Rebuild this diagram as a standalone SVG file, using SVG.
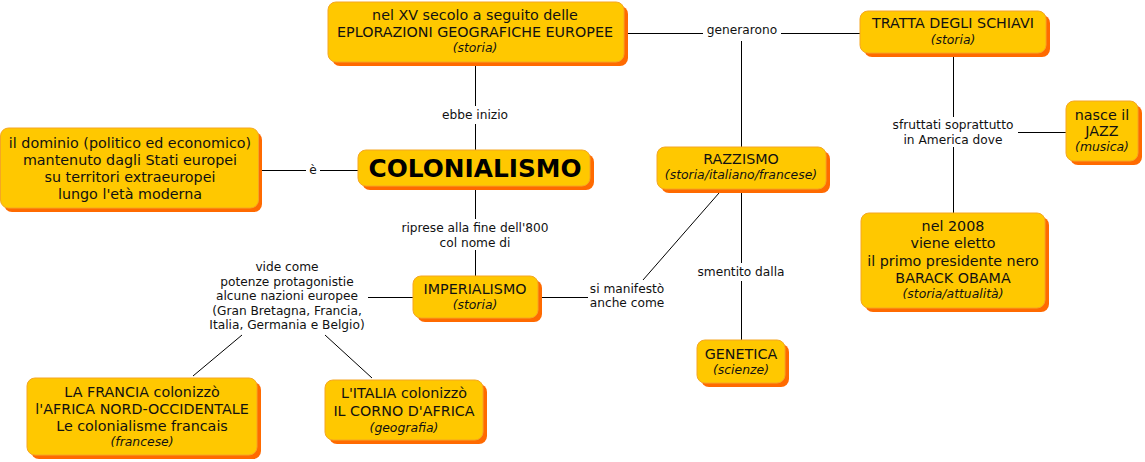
<svg xmlns="http://www.w3.org/2000/svg" width="1145" height="462" viewBox="0 0 1145 462">
<style>
.bg{fill:#ffffff}
.sh{fill:#ff6a00}
.bx{fill:#ffc800;stroke:#f5a623;stroke-width:1}
.t{font-family:"DejaVu Sans","Liberation Sans",sans-serif;font-size:14.3px;fill:#111;text-anchor:middle}
.i{font-style:italic;font-size:12.4px}
.lb{font-family:"DejaVu Sans","Liberation Sans",sans-serif;font-size:12.2px;fill:#111;text-anchor:middle}
.big{font-family:"DejaVu Sans","Liberation Sans",sans-serif;font-size:24.8px;font-weight:bold;fill:#000;text-anchor:middle}
.c{stroke:#000;stroke-width:1;fill:none}
</style>
<rect class="bg" x="0" y="0" width="1145" height="462"/>
<g id="connectors">
<line class="c" x1="475.5" y1="65" x2="475.5" y2="106"/>
<line class="c" x1="475.5" y1="124" x2="475.5" y2="150"/>
<line class="c" x1="262" y1="170.5" x2="306" y2="170.5"/>
<line class="c" x1="320" y1="170.5" x2="358" y2="170.5"/>
<line class="c" x1="475.5" y1="190" x2="475.5" y2="219"/>
<line class="c" x1="475.5" y1="250" x2="475.5" y2="276"/>
<line class="c" x1="624" y1="33.5" x2="703" y2="33.5"/>
<line class="c" x1="781" y1="33.5" x2="860" y2="33.5"/>
<line class="c" x1="741.5" y1="41" x2="741.5" y2="147"/>
<line class="c" x1="953.5" y1="57" x2="953.5" y2="117"/>
<line class="c" x1="953.5" y1="147" x2="953.5" y2="213"/>
<line class="c" x1="1018" y1="132.5" x2="1066" y2="132.5"/>
<line class="c" x1="741.5" y1="193" x2="741.5" y2="263"/>
<line class="c" x1="741.5" y1="281" x2="741.5" y2="340"/>
<line class="c" x1="719" y1="193" x2="643" y2="280"/>
<line class="c" x1="542" y1="297.5" x2="588" y2="297.5"/>
<line class="c" x1="368" y1="297.5" x2="413" y2="297.5"/>
<line class="c" x1="242" y1="335" x2="193" y2="376"/>
<line class="c" x1="325" y1="335" x2="372" y2="378"/>
</g>
<g id="labels">
<text class="lb" x="475" y="119">ebbe inizio</text>
<text class="lb" x="313" y="174">è</text>
<text class="lb" x="742" y="34">generarono</text>
<text class="lb" x="475" y="232">riprese alla fine dell'800</text>
<text class="lb" x="475" y="247">col nome di</text>
<text class="lb" x="953" y="129">sfruttati soprattutto</text>
<text class="lb" x="953" y="144">in America dove</text>
<text class="lb" x="741" y="276">smentito dalla</text>
<text class="lb" x="627" y="293">si manifestò</text>
<text class="lb" x="627" y="307">anche come</text>
<text class="lb" x="287" y="271">vide come</text>
<text class="lb" x="287" y="286">potenze protagonistie</text>
<text class="lb" x="287" y="300">alcune nazioni europee</text>
<text class="lb" x="287" y="315">(Gran Bretagna, Francia,</text>
<text class="lb" x="287" y="329">Italia, Germania e Belgio)</text>
</g>
<g id="n-esplorazioni">
<rect class="sh" x="332" y="6" width="296" height="60" rx="8"/>
<rect class="bx" x="328" y="2" width="296" height="60" rx="8"/>
<text class="t" x="475" y="20">nel XV secolo a seguito delle</text>
<text class="t" x="475" y="37">EPLORAZIONI GEOGRAFICHE EUROPEE</text>
<text class="t i" x="475" y="52">(storia)</text>
</g>
<g id="n-colonialismo">
<rect class="sh" x="362" y="154" width="232" height="36" rx="8"/>
<rect class="bx" x="358" y="150" width="232" height="36" rx="8"/>
<text class="big" x="475" y="177">COLONIALISMO</text>
</g>
<g id="n-dominio">
<rect class="sh" x="4" y="132" width="258" height="80" rx="8"/>
<rect class="bx" x="0.5" y="128" width="258" height="80" rx="8"/>
<text class="t" x="130" y="148">il dominio (politico ed economico)</text>
<text class="t" x="130" y="165">mantenuto dagli Stati europei</text>
<text class="t" x="130" y="182">su territori extraeuropei</text>
<text class="t" x="130" y="199">lungo l'età moderna</text>
</g>
<g id="n-tratta">
<rect class="sh" x="864" y="15" width="186" height="42" rx="8"/>
<rect class="bx" x="860" y="11" width="186" height="42" rx="8"/>
<text class="t" x="953" y="28">TRATTA DEGLI SCHIAVI</text>
<text class="t i" x="953" y="44">(storia)</text>
</g>
<g id="n-razzismo">
<rect class="sh" x="661" y="151" width="169" height="42" rx="8"/>
<rect class="bx" x="657" y="147" width="169" height="42" rx="8"/>
<text class="t" x="741" y="164">RAZZISMO</text>
<text class="t i" x="741" y="179">(storia/italiano/francese)</text>
</g>
<g id="n-jazz">
<rect class="sh" x="1070" y="105" width="72" height="60" rx="8"/>
<rect class="bx" x="1066" y="101" width="72" height="60" rx="8"/>
<text class="t" x="1102" y="120">nasce il</text>
<text class="t" x="1102" y="136">JAZZ</text>
<text class="t i" x="1102" y="151">(musica)</text>
</g>
<g id="n-obama">
<rect class="sh" x="865" y="217" width="184" height="95" rx="8"/>
<rect class="bx" x="861" y="213" width="184" height="95" rx="8"/>
<text class="t" x="953" y="231">nel 2008</text>
<text class="t" x="953" y="248">viene eletto</text>
<text class="t" x="953" y="266">il primo presidente nero</text>
<text class="t" x="953" y="283">BARACK OBAMA</text>
<text class="t i" x="953" y="298">(storia/attualità)</text>
</g>
<g id="n-genetica">
<rect class="sh" x="701" y="344" width="88" height="43" rx="8"/>
<rect class="bx" x="697" y="340" width="88" height="43" rx="8"/>
<text class="t" x="741" y="359">GENETICA</text>
<text class="t i" x="741" y="374">(scienze)</text>
</g>
<g id="n-imperialismo">
<rect class="sh" x="417" y="280" width="125" height="42" rx="8"/>
<rect class="bx" x="413" y="276" width="125" height="42" rx="8"/>
<text class="t" x="475" y="294">IMPERIALISMO</text>
<text class="t i" x="475" y="309">(storia)</text>
</g>
<g id="n-francia">
<rect class="sh" x="31" y="382" width="230" height="77" rx="8"/>
<rect class="bx" x="27" y="378" width="230" height="77" rx="8"/>
<text class="t" x="142" y="397">LA FRANCIA colonizzò</text>
<text class="t" x="142" y="414">l'AFRICA NORD-OCCIDENTALE</text>
<text class="t" x="142" y="431">Le colonialisme francais</text>
<text class="t i" x="142" y="446">(francese)</text>
</g>
<g id="n-italia">
<rect class="sh" x="329" y="384" width="158" height="60" rx="8"/>
<rect class="bx" x="325" y="380" width="158" height="60" rx="8"/>
<text class="t" x="404" y="398">L'ITALIA colonizzò</text>
<text class="t" x="404" y="416">IL CORNO D'AFRICA</text>
<text class="t i" x="404" y="432">(geografia)</text>
</g>
</svg>
